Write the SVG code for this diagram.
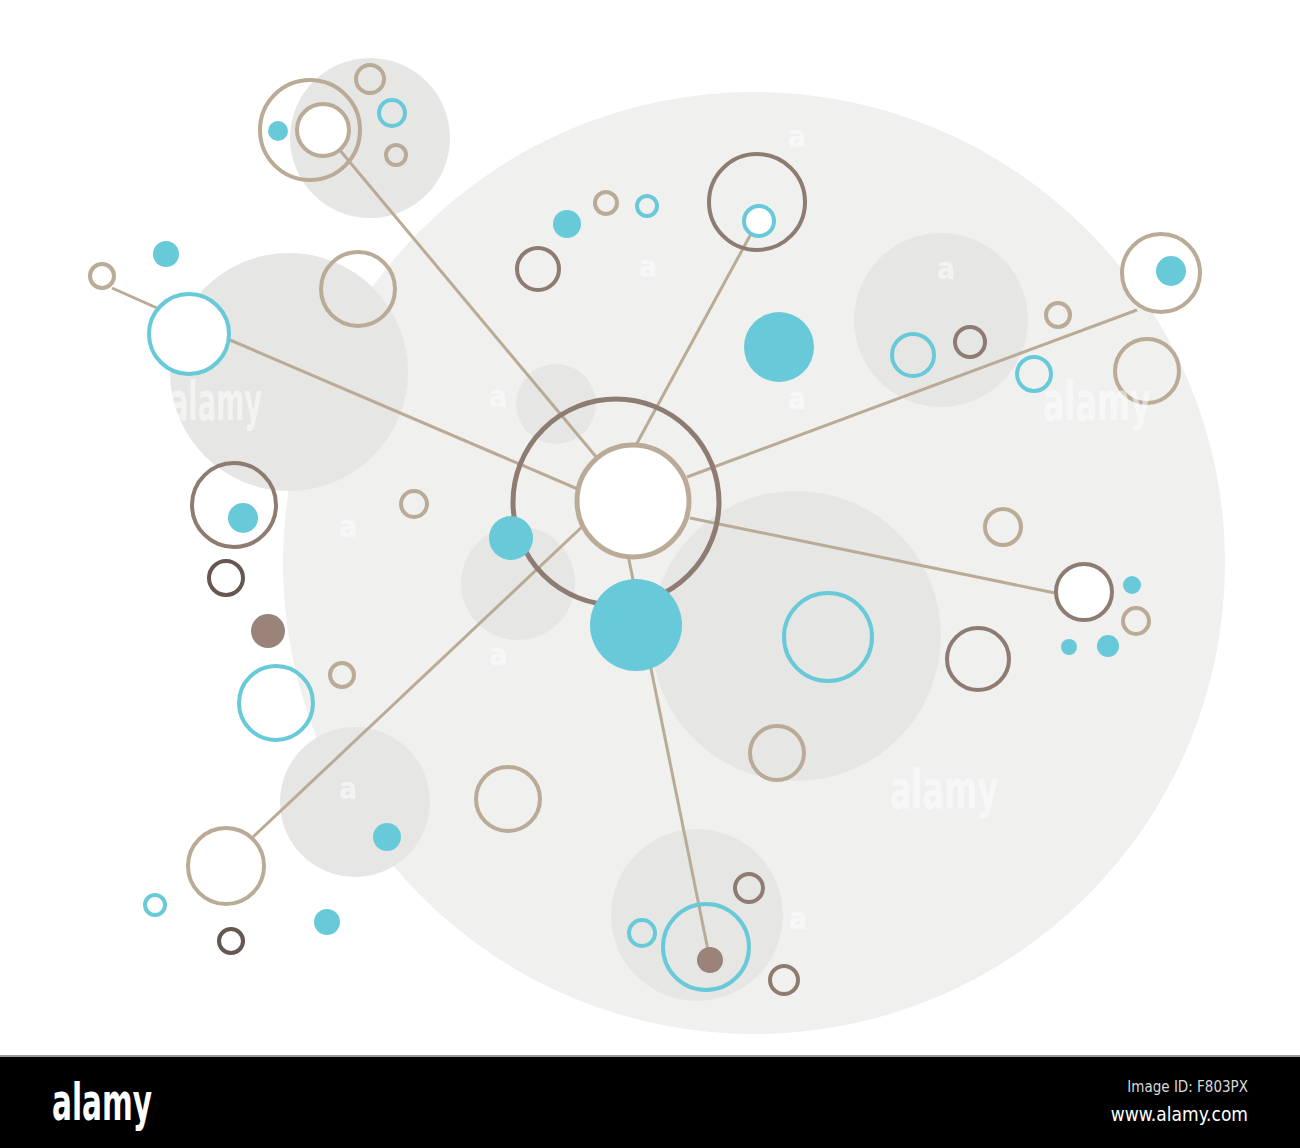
<svg xmlns="http://www.w3.org/2000/svg" width="1300" height="1148" viewBox="0 0 1300 1148">
<style>
.bg{fill:#e6e6e5}
.t{fill:none;stroke:#b9ab96;stroke-width:4}
.tw{fill:#ffffff;stroke:#b9ab96;stroke-width:4}
.b{fill:none;stroke:#8e7b72;stroke-width:4}
.bw{fill:#ffffff;stroke:#8e7b72;stroke-width:4}
.d{fill:none;stroke:#655850;stroke-width:4}
.c{fill:none;stroke:#68c9d8;stroke-width:4}
.cw{fill:#ffffff;stroke:#68c9d8;stroke-width:4}
.cf{fill:#68c9d8}
.bf{fill:#9a8379}
.ln{stroke:#b9ab96;stroke-width:3;fill:none}
.wm{fill:#ffffff;fill-opacity:0.55;font-family:"DejaVu Sans Condensed","DejaVu Sans",sans-serif;font-weight:bold}
</style>
<rect x="0" y="0" width="1300" height="1148" fill="#ffffff"/>
<circle cx="754" cy="563" r="471" fill="#f0f0ef"/>
<g id="bg-circles">
<circle class="bg" cx="370" cy="138" r="80"/>
<circle class="bg" cx="289" cy="372" r="119"/>
<circle class="bg" cx="556" cy="404" r="40"/>
<circle class="bg" cx="518" cy="583" r="57"/>
<circle class="bg" cx="796" cy="636" r="145"/>
<circle class="bg" cx="941" cy="320" r="87"/>
<circle class="bg" cx="355" cy="802" r="75"/>
<circle class="bg" cx="697" cy="915" r="86"/>
</g>
<g id="connectors">
<line class="ln" x1="323" y1="130" x2="633" y2="501"/>
<line class="ln" x1="758" y1="221" x2="636" y2="445"/>
<line class="ln" x1="1137" y1="310" x2="687" y2="477"/>
<line class="ln" x1="1055" y1="593" x2="690" y2="518"/>
<line class="ln" x1="710" y1="960" x2="628" y2="555"/>
<line class="ln" x1="253" y1="837" x2="585" y2="524"/>
<line class="ln" x1="230" y1="340" x2="580" y2="490"/>
<line class="ln" x1="112" y1="288" x2="157" y2="308"/>
</g>
<g id="hub">
<circle cx="616" cy="502" r="103" fill="none" stroke="#8e7b72" stroke-width="5"/>
<circle cx="633" cy="501" r="56" fill="#ffffff" stroke="#b9ab96" stroke-width="5"/>
<circle class="cf" cx="511" cy="538" r="22"/>
<circle class="cf" cx="636" cy="625" r="46"/>
</g>
<g id="node-topleft">
<circle class="t" cx="310" cy="130" r="50"/>
<circle class="tw" cx="323" cy="130" r="26"/>
<circle class="cf" cx="278" cy="131" r="10"/>
<circle class="t" cx="370" cy="79" r="14"/>
<circle class="c" cx="392" cy="113" r="13"/>
<circle class="t" cx="396" cy="155" r="10"/>
</g>
<g id="node-top">
<circle class="b" cx="757" cy="202" r="48"/>
<circle class="cw" cx="759" cy="221" r="15"/>
</g>
<g id="node-right">
<circle class="tw" cx="1161" cy="273" r="39"/>
<circle class="cf" cx="1171" cy="271" r="15"/>
</g>
<g id="node-right2">
<circle class="bw" cx="1084" cy="592" r="28"/>
<circle class="cf" cx="1132" cy="585" r="9"/>
<circle class="t" cx="1136" cy="621" r="13"/>
<circle class="cf" cx="1069" cy="647" r="8"/>
<circle class="cf" cx="1108" cy="646" r="11"/>
</g>
<g id="node-bottom">
<circle class="c" cx="706" cy="947" r="43"/>
<circle class="bf" cx="710" cy="960" r="13"/>
<circle class="b" cx="749" cy="888" r="14"/>
<circle class="c" cx="642" cy="933" r="13"/>
<circle class="b" cx="784" cy="980" r="14"/>
</g>
<g id="node-bottomleft">
<circle class="tw" cx="226" cy="866" r="38"/>
<circle class="c" cx="155" cy="905" r="10"/>
<circle class="d" cx="231" cy="941" r="12"/>
<circle class="cf" cx="327" cy="922" r="13"/>
<circle class="cf" cx="387" cy="837" r="14"/>
</g>
<g id="node-left">
<circle class="cw" cx="189" cy="334" r="40"/>
<circle class="t" cx="102" cy="276" r="12"/>
<circle class="cf" cx="166" cy="254" r="13"/>
<circle class="t" cx="358" cy="289" r="37"/>
</g>
<g id="scatter-left">
<circle class="b" cx="234" cy="505" r="42"/>
<circle class="cf" cx="243" cy="518" r="15"/>
<circle class="d" cx="226" cy="578" r="17"/>
<circle class="bf" cx="268" cy="631" r="17"/>
<circle class="c" cx="276" cy="703" r="37"/>
<circle class="t" cx="342" cy="675" r="12"/>
<circle class="t" cx="414" cy="504" r="13"/>
</g>
<g id="scatter-top">
<circle class="cf" cx="567" cy="224" r="14"/>
<circle class="t" cx="606" cy="203" r="11"/>
<circle class="c" cx="647" cy="206" r="10"/>
<circle class="b" cx="538" cy="269" r="21"/>
<circle class="cf" cx="779" cy="347" r="35"/>
</g>
<g id="scatter-right">
<circle class="c" cx="913" cy="355" r="21"/>
<circle class="b" cx="970" cy="342" r="15"/>
<circle class="c" cx="1034" cy="374" r="17"/>
<circle class="t" cx="1058" cy="315" r="12"/>
<circle class="t" cx="1147" cy="371" r="32"/>
<circle class="t" cx="1003" cy="527" r="18"/>
<circle class="b" cx="978" cy="659" r="31"/>
<circle class="c" cx="828" cy="637" r="44"/>
<circle class="t" cx="777" cy="753" r="27" stroke-width="5"/>
<circle class="t" cx="508" cy="799" r="32"/>
</g>
<g id="watermarks">
<text class="wm" x="216" y="420" font-size="54" text-anchor="middle" textLength="92" lengthAdjust="spacingAndGlyphs">alamy</text>
<text class="wm" x="1097" y="420" font-size="54" text-anchor="middle" textLength="108" lengthAdjust="spacingAndGlyphs">alamy</text>
<text class="wm" x="944" y="808" font-size="54" text-anchor="middle" textLength="108" lengthAdjust="spacingAndGlyphs">alamy</text>
<text class="wm" x="348" y="537" font-size="30" text-anchor="middle">a</text>
<text class="wm" x="348" y="799" font-size="30" text-anchor="middle">a</text>
<text class="wm" x="648" y="277" font-size="30" text-anchor="middle">a</text>
<text class="wm" x="946" y="279" font-size="30" text-anchor="middle">a</text>
<text class="wm" x="798" y="929" font-size="30" text-anchor="middle">a</text>
<text class="wm" x="498" y="407" font-size="30" text-anchor="middle">a</text>
<text class="wm" x="498" y="665" font-size="30" text-anchor="middle">a</text>
<text class="wm" x="797" y="147" font-size="30" text-anchor="middle">a</text>
<text class="wm" x="797" y="409" font-size="30" text-anchor="middle">a</text>
</g>
<g id="footer">
<rect x="0" y="1057" width="1300" height="91" fill="#000000"/>
<rect x="0" y="1055" width="1300" height="2" fill="#9a9a9a"/>
<text x="52" y="1120" font-family="DejaVu Sans Condensed, DejaVu Sans, sans-serif" font-weight="bold" font-size="52" fill="#ffffff" textLength="100" lengthAdjust="spacingAndGlyphs">alamy</text>
<text x="1248" y="1092" font-family="DejaVu Sans Condensed, DejaVu Sans, sans-serif" font-size="15" fill="#d8d8d8" text-anchor="end">Image ID: F803PX</text>
<text x="1248" y="1121" font-family="DejaVu Sans Condensed, DejaVu Sans, sans-serif" font-size="19" fill="#ffffff" text-anchor="end">www.alamy.com</text>
</g>
</svg>
